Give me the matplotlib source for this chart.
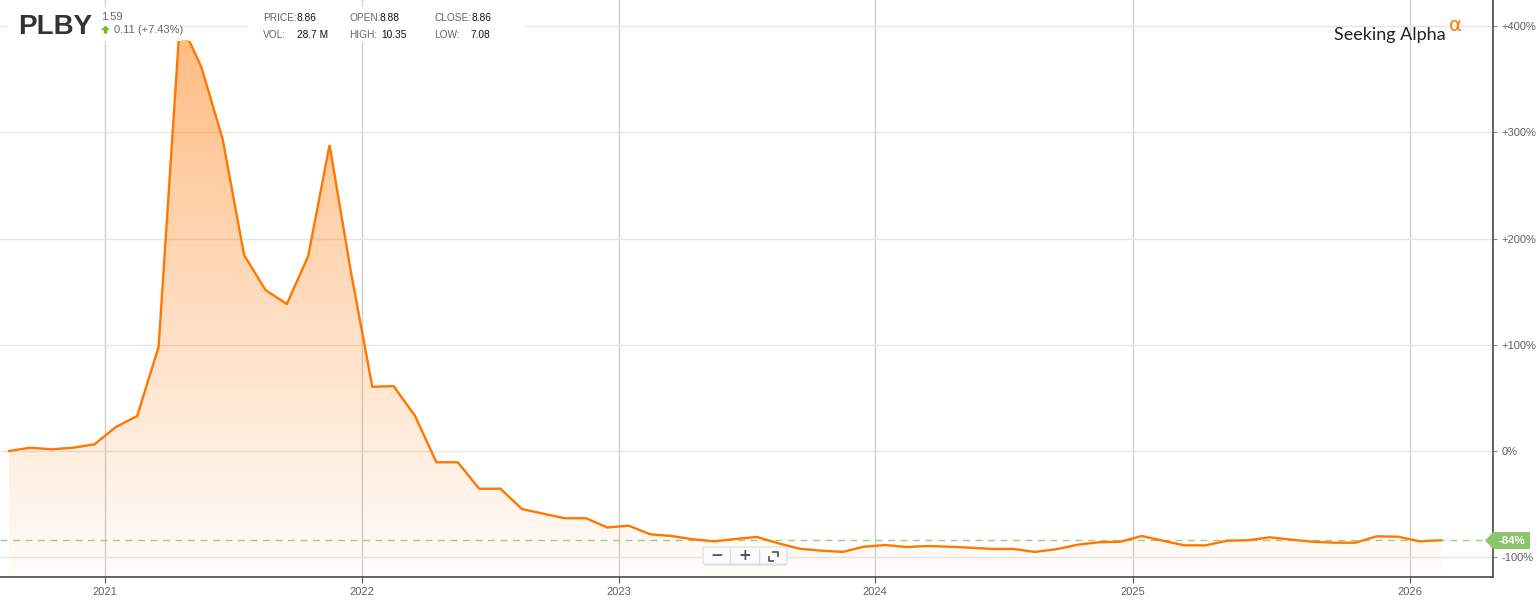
import matplotlib
matplotlib.use("Agg")
import matplotlib.pyplot as plt
import numpy as np
from matplotlib.patches import Rectangle, Polygon, FancyBboxPatch
from matplotlib.lines import Line2D
from matplotlib.transforms import Affine2D
from matplotlib.ticker import FuncFormatter

# ---------------- data ----------------
ticker = "PLBY"
last_price = "1.59"
change_text = "0.11 (+7.43%)"
info_labels = [["PRICE:", "VOL:"], ["OPEN:", "HIGH:"], ["CLOSE:", "LOW:"]]
info_values = [["8.86", "28.7 M"], ["8.88", "10.35"], ["8.86", "7.08"]]

# monthly % change since start (Aug 2020 -> Feb 2026)
pct_change = [
    0, 3.1, 1.6, 3.1, 6.3, 22.6, 33, 98, 405, 361.5,
    293.4, 184.5, 151.5, 138.4, 183.5, 288, 168.5, 60.5, 61, 33,
    -10.6, -10.6, -35.5, -35.5, -54.6, -59, -63.3, -63.3, -72, -70.3,
    -78.4, -80, -83.1, -85, -82.8, -80.9, -86.9, -92, -93.8, -95,
    -90.1, -88.5, -90.4, -89.4, -90.1, -91, -92.2, -92.2, -95, -92.5,
    -88.2, -85.9, -85.4, -80, -84.5, -88.8, -88.8, -84.4, -84, -81.2,
    -83.5, -85.4, -86.3, -86.3, -80.3, -80.7, -85, -84,
]
year_labels = ["2021", "2022", "2023", "2024", "2025", "2026"]
y_ticks = [-100, 0, 100, 200, 300, 400]
current_pct = -84

# ---------------- layout ----------------
W, H = 1539, 610
year_tick_pos = [4.49, 16.52, 28.55, 40.52, 52.6, 65.56]
XMIN, XMAX = -0.421, 69.44
YMIN, YMAX = -118.6, 424.5
CLIP_TOP = 386

plt.rcParams["font.family"] = ["Liberation Sans", "DejaVu Sans"]

fig = plt.figure(figsize=(W / 100, H / 100), dpi=100)
fig.patch.set_facecolor("white")
ax = fig.add_axes([0, 33 / H, 1493 / W, 577 / H])
ax.set_xlim(XMIN, XMAX)
ax.set_ylim(YMIN, YMAX)

x = np.arange(len(pct_change))
y = np.array(pct_change, dtype=float)

# gradient fill
poly = ax.fill_between(x, y, YMIN, facecolor="none", edgecolor="none")
grad = np.zeros((256, 1, 4))
grad[..., 0] = 1.0
grad[..., 1] = 0.47
grad[..., 2] = 0.0
vals = np.linspace(YMIN, CLIP_TOP, 256)
grad[:, 0, 3] = 0.02 + 0.50 * (vals - YMIN) / (YMAX - YMIN)
img = ax.imshow(grad, extent=[XMIN, XMAX, YMIN, CLIP_TOP], origin="lower",
                aspect="auto", zorder=1.5, interpolation="bilinear")
img.set_clip_path(poly.get_paths()[0], ax.transData)

# main line
line, = ax.plot(x, y, color="#ff7700", lw=1.7, zorder=3, solid_joinstyle="miter")
clip_rect = Rectangle((XMIN, YMIN), XMAX - XMIN, CLIP_TOP - YMIN, transform=ax.transData)
line.set_clip_path(clip_rect)

# current-level dashed line
ax.axhline(current_pct, color="#9ccf7d", lw=1, ls=(0, (5, 4)), zorder=2.5)

# axes styling
ax.set_yticks(y_ticks)
ax.yaxis.tick_right()
ax.yaxis.set_major_formatter(FuncFormatter(lambda v, p: f"+{v:.0f}%" if v > 0 else f"{v:.0f}%"))
ax.set_xticks(year_tick_pos)
ax.set_xticklabels(year_labels)
ax.tick_params(axis="y", which="both", length=3, color="#888888", labelcolor="#606060",
               labelsize=8, pad=3, right=True, left=False)
ax.tick_params(axis="x", length=4, color="#555555", labelcolor="#606060", labelsize=8, pad=3)
ax.set_axisbelow(True)
ax.grid(axis="y", color="#e6e6e6", lw=1)
ax.grid(axis="x", color="#cfcfcf", lw=1)
for s in ["left", "top"]:
    ax.spines[s].set_visible(False)
for s in ["bottom", "right"]:
    ax.spines[s].set_color("#555555")
    ax.spines[s].set_linewidth(1.3)

# ---------------- figure-level decorations (pixel coords, y down) ----------------
T = Affine2D().scale(1, -1).translate(0, H)

def add_patch(p):
    p.set_transform(T)
    fig.add_artist(p)
    return p

def ptext(px, py, s, **kw):
    return fig.text(px, py, s, transform=T, **kw)

# header backgrounds
add_patch(Rectangle((8, 7), 174, 34, facecolor="white", edgecolor="none", zorder=5))
add_patch(Rectangle((248, 7), 277, 35, facecolor="white", edgecolor="none", zorder=5))

ptext(18, 33.5, ticker, fontsize=20, weight="bold", color="#333333", va="baseline", zorder=6)
ptext(101, 19.5, last_price, fontsize=8, color="#666666", va="baseline", zorder=6)
add_patch(Polygon([(101, 30), (105.5, 25.5), (110, 30), (107.3, 30), (107.3, 33.5),
                   (103.7, 33.5), (103.7, 30)], closed=True, facecolor="#76b82a",
                  edgecolor="none", zorder=6))
ptext(113.5, 33, change_text, fontsize=8, color="#666666", va="baseline", zorder=6)

label_x = [263.3, 349.3, 434.3]
value_x = [[296.7, 296.7], [380, 381.7], [471, 471]]
rows_y = [20.7, 37.7]
for c in range(3):
    for r in range(2):
        ptext(label_x[c], rows_y[r], info_labels[c][r], fontsize=7.3, color="#666666",
              va="baseline", zorder=6)
        ptext(value_x[c][r], rows_y[r], info_values[c][r], fontsize=7.3, color="#111111",
              va="baseline", zorder=6)

# Seeking Alpha logo
ptext(1334, 40, "Seeking Alpha", fontsize=13, color="#222222", va="baseline",
      family=["Lato", "DejaVu Sans"], zorder=6)
ptext(1449, 31, "α", fontsize=14, color="#ff7a00", va="baseline",
      family=["DejaVu Sans"], zorder=6)

# zoom control
add_patch(FancyBboxPatch((704, 549), 83, 17, boxstyle="round,pad=0,rounding_size=2",
                         facecolor="#e6e6e6", edgecolor="none", zorder=5))
add_patch(FancyBboxPatch((703, 547), 84, 17, boxstyle="round,pad=0,rounding_size=2",
                         facecolor="#fbfbfb", edgecolor="#dcdcdc", lw=0.8, zorder=5))
for sx in [729.5, 758.5]:
    fig.add_artist(Line2D([sx, sx], [549, 563], transform=T, color="#dddddd", lw=1, zorder=6))
ptext(716.5, 556, "−", fontsize=11, weight="bold", color="#555555", ha="center",
      va="center", family=["DejaVu Sans"], zorder=6)
ptext(744.5, 556, "+", fontsize=11, weight="bold", color="#555555", ha="center",
      va="center", family=["DejaVu Sans"], zorder=6)
fig.add_artist(Line2D([773, 777.5, 777.5], [551.5, 551.5, 556], transform=T,
                      color="#666666", lw=1.4, zorder=6))
fig.add_artist(Line2D([768.5, 768.5, 773], [556.5, 561, 561], transform=T,
                      color="#666666", lw=1.4, zorder=6))

# current value tag
add_patch(Polygon([(1485, 540.5), (1493, 532), (1530, 532), (1530, 549), (1493, 549)],
                  closed=True, facecolor="#8cc56d", edgecolor="none", zorder=6))
ptext(1511.5, 541, f"{current_pct}%", fontsize=8.2, weight="bold", color="white",
      ha="center", va="center", zorder=7)

fig.savefig("out.png", dpi=100)
